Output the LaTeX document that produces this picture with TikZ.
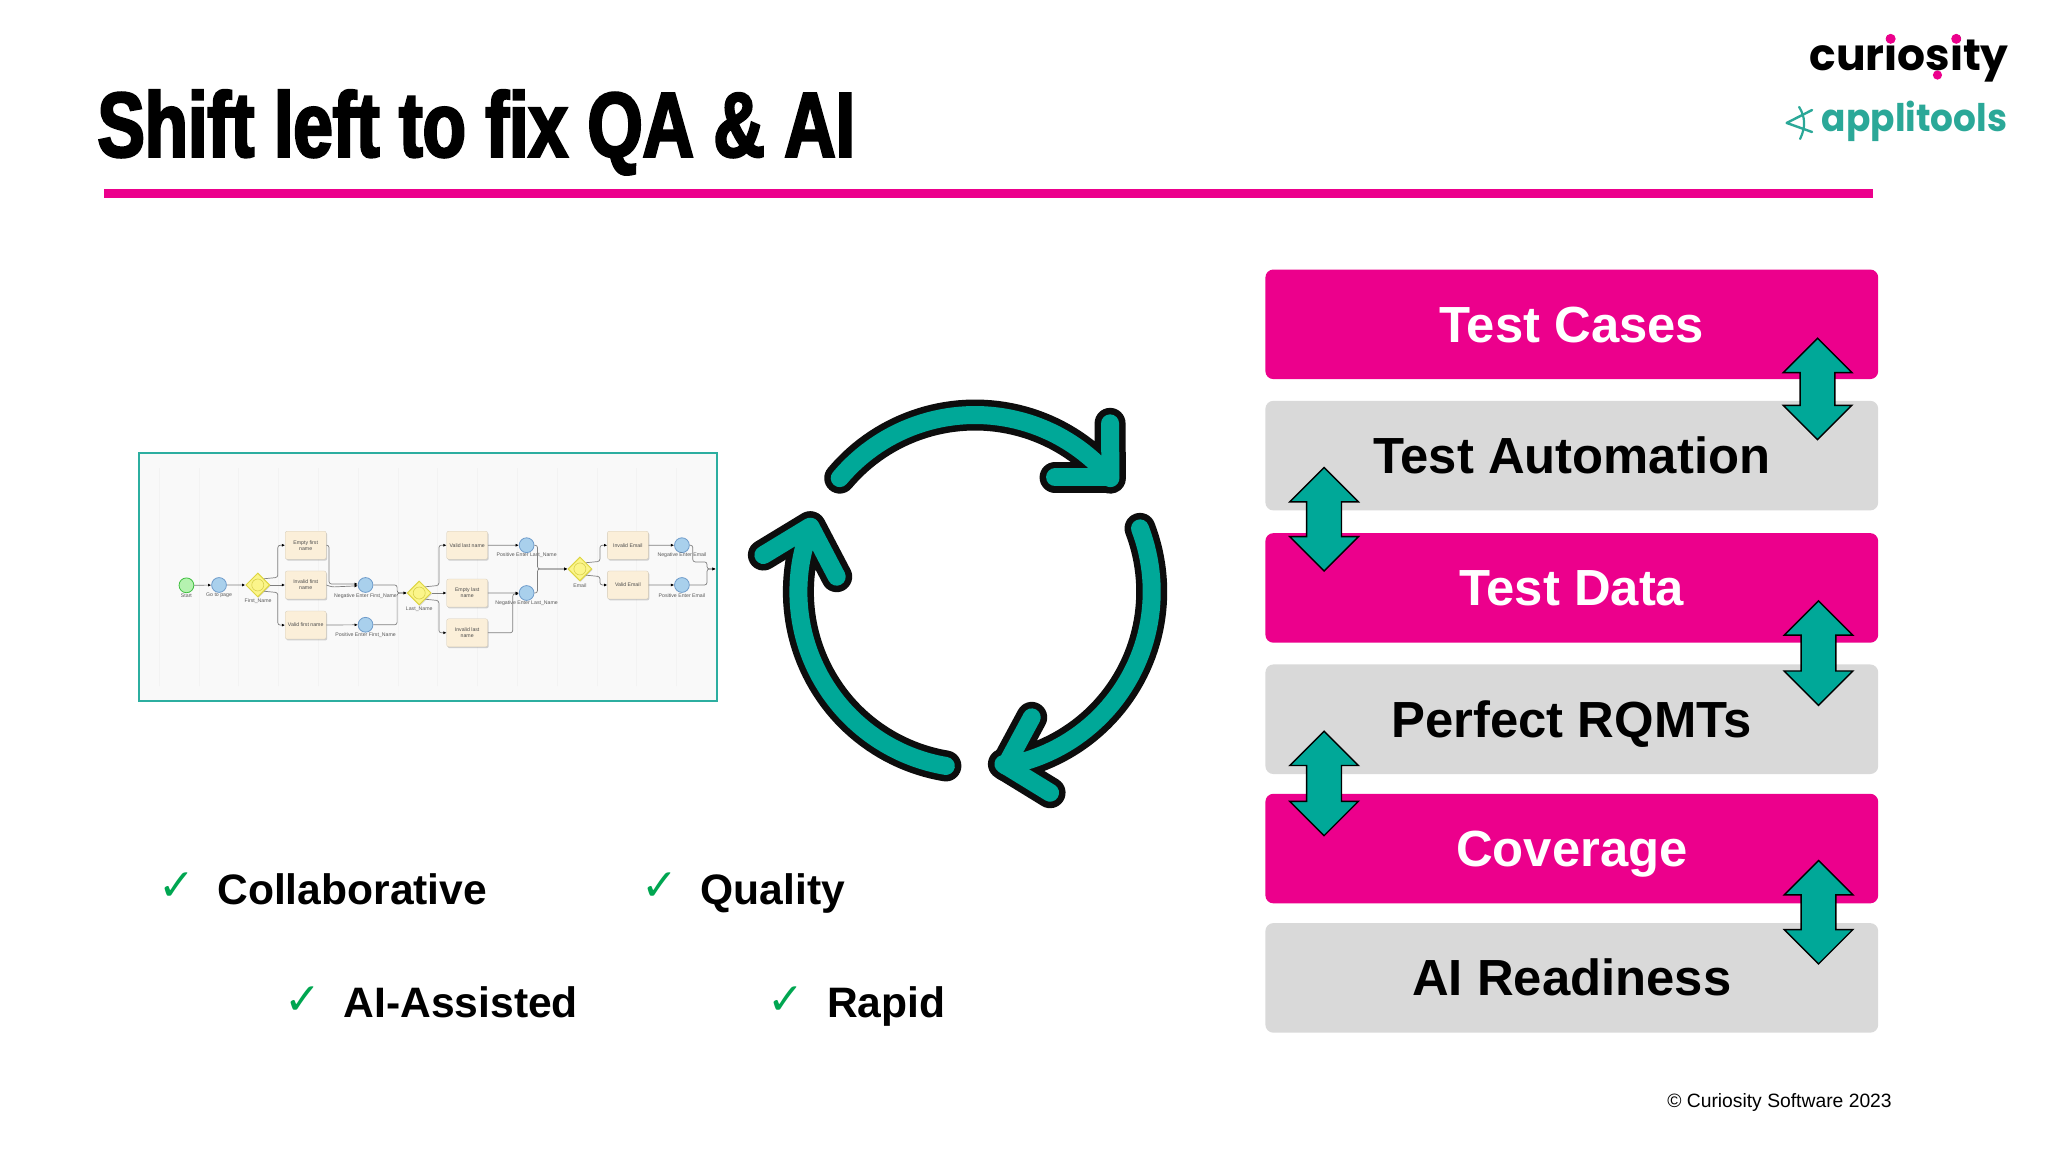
\documentclass[tikz,border=0pt]{standalone}
\usepackage{fontspec}
\usetikzlibrary{arrows.meta,shapes.geometric,shadows,calc}
\setmainfont{Liberation Sans}
\newfontfamily\titlefont[FakeStretch=0.775,FakeBold=2.6,LetterSpace=-0.4]{Liberation Sans Bold}
\newfontfamily\logofont{Poppins}
\newfontfamily\applifont[FakeStretch=0.945]{Poppins}
\newfontfamily\dejavu{DejaVu Sans}
\definecolor{pinkc}{HTML}{EC008C}
\definecolor{grayc}{HTML}{D9D9D9}
\definecolor{tealc}{HTML}{00A898}
\definecolor{framec}{HTML}{2CAEA0}
\definecolor{logoteal}{HTML}{2BA898}
\definecolor{checkc}{HTML}{00A651}
\definecolor{taskc}{HTML}{FBEFD9}
\definecolor{bluec}{HTML}{A9D0EC}
\definecolor{bluee}{HTML}{6F9CCB}
\definecolor{greenf}{HTML}{B5F2B0}
\definecolor{yellowf}{HTML}{FBF58A}
\definecolor{panelc}{HTML}{F9F9F9}
\definecolor{gridc}{HTML}{F3F3F3}
\tikzset{
  x=0.4974pt,y=-0.4974pt,
  bandbox/.style={minimum width=306.4pt,minimum height=54.8pt,rounded corners=4pt,inner sep=0pt,text height=18pt,text depth=0pt,font=\bfseries\fontsize{25.4}{26}\selectfont},
  pinkbox/.style={bandbox,fill=pinkc,text=white},
  graybox/.style={bandbox,fill=grayc,text=black},
  listtext/.style={anchor=west,inner sep=0pt,text height=15.3pt,text depth=0pt,font=\bfseries\fontsize{21.3}{22}\selectfont},
  checkmark/.style={inner sep=0pt,text=checkc,font=\dejavu\fontsize{22}{22}\selectfont},
  dbl/.style={fill=tealc,draw=black,line width=0.7pt,line join=miter},
  loopblack/.style={draw=black!95,line width=15.5pt,line cap=round,line join=round},
  loopteal/.style={draw=tealc,line width=9pt,line cap=round,line join=round},
  task/.style={rounded corners=1pt,fill=taskc,draw=taskc!85!black,line width=.15pt,minimum width=20.5pt,minimum height=14pt,inner sep=0pt,align=center,font=\fontsize{2.6}{3}\selectfont,text=black!70,drop shadow={shadow xshift=.5pt,shadow yshift=-.7pt,opacity=.35}},
  evt/.style={circle,fill=bluec,draw=bluee,line width=.4pt,minimum size=7.4pt,inner sep=0pt},
  evts/.style={circle,fill=greenf,draw=green!50!gray,line width=.4pt,minimum size=7.4pt,inner sep=0pt},
  gate/.style={diamond,aspect=1,fill=yellowf,draw=yellow!70!gray,line width=.5pt,minimum size=12pt,inner sep=0pt,drop shadow={shadow xshift=.4pt,shadow yshift=-.5pt,opacity=.3}},
  gatein/.style={circle,draw=yellow!65!gray,line width=.3pt,minimum size=6pt,inner sep=0pt},
  capt/.style={inner sep=0pt,font=\fontsize{2.6}{3}\selectfont,text=black!65},
  conn/.style={draw=black!50,line width=.35pt,rounded corners=1.2pt,-{Latex[length=1.6pt,width=1.5pt,black]}},
}
\newcommand{\dblarrow}[3]{% centre x, top y, bottom y
  \draw[dbl] (#1,#2) -- ({#1+34.5},{#2+34.5}) -- ({#1+17.5},{#2+34.5}) -- ({#1+17.5},{#3-34.5}) -- ({#1+34.5},{#3-34.5}) -- (#1,#3) -- ({#1-34.5},{#3-34.5}) -- ({#1-17.5},{#3-34.5}) -- ({#1-17.5},{#2+34.5}) -- ({#1-34.5},{#2+34.5}) -- cycle;}
\newcommand{\looppaths}[1]{%
  \draw[#1] plot[domain=140:40,samples=50] ({705+530*cos(\x)},{635-530*sin(\x)}) -- (1110,130);
  \draw[#1] (945,292) -- (1110,292);
  \draw[#1] plot[domain=21:-80,samples=50] ({705+530*cos(\x)},{635-530*sin(\x)}) -- (875,1012);
  \draw[#1] (930,1238) -- (790,1152);
  \draw[#1] plot[domain=-99.5:-201.5,samples=50] ({705+530*cos(\x)},{635-530*sin(\x)}) -- (290,590);
  \draw[#1] (70,525) -- (210,440);
}
\newcommand{\curfont}{\logofont\bfseries\fontsize{22}{22}\selectfont}
\newdimen\wa \newdimen\wb \newdimen\wc \newdimen\wi \newdimen\ws
\begin{document}
\setbox0=\hbox{\curfont curi}\global\wa=\wd0
\setbox0=\hbox{\curfont curiosi}\global\wb=\wd0
\setbox0=\hbox{\curfont curios}\global\wc=\wd0
\setbox0=\hbox{\curfont i}\global\wi=\wd0
\setbox0=\hbox{\curfont s}\global\ws=\wd0
\global\advance\wa by -0.5\wi
\global\advance\wb by -0.5\wi
\global\advance\wc by -0.5\ws
\begin{tikzpicture}
\useasboundingbox[fill=white] (0,0) rectangle (2058.7,1158);
% title
\node[anchor=base west,inner sep=0pt,font=\titlefont\fontsize{46}{48}\selectfont] (title) at (97.5,157.5) {Shift left to fix QA \& AI};
\fill[pinkc] (105,190) rectangle (1883,199);
% logos
\node[anchor=base west,inner sep=0pt,font=\curfont,text=black] (cur) at (1818.5,70.4) {curiosity};
\fill[pinkc] ($(cur.base west)+(\the\wa,15.6pt)$) circle (2.5pt);
\fill[pinkc] ($(cur.base west)+(\the\wb,15.6pt)$) circle (2.5pt);
\fill[pinkc] ($(cur.base west)+(\the\wc,-2.5pt)$) circle (2.3pt);
\node[anchor=base west,inner sep=0pt,font=\applifont\bfseries\fontsize{19}{19}\selectfont,text=logoteal] (app) at (1831,132.4) {applitools};
\draw[logoteal,line width=1.1pt,line cap=round] (1808.5,107.5) .. controls (1815,118) and (1815,128) .. (1809.5,139.7);
\draw[logoteal,line width=1.2pt,line join=round,line cap=round] (1821.5,110.6) -- (1796,123.6) -- (1821.5,132.7);
% model picture
\draw[framec,line width=.9pt,fill=panelc] (140,455) rectangle (721,705);
\draw[gridc,line width=.3pt] (160,470) grid[step=40] (700,690);
\begin{scope}[shift={(130.36,452.3)},xscale=.3855,yscale=.336]
  \node[evts] (st) at (148,405) {};
  \node[evt] (go) at (233,404) {};
  \node[gate] (fn) at (334,404) {};
  \node[gatein] (fni) at (334,404) {};
  \node[task] (ef) at (459,285) {Empty first\\name};
  \node[task] (if) at (459,404) {Invalid first\\name};
  \node[task] (vf) at (459,524) {Valid first name};
  \node[evt] (nf) at (615,404) {};
  \node[evt] (pf) at (615,523) {};
  \node[gate] (ln) at (755,428) {};
  \node[gatein] (lni) at (755,428) {};
  \node[task] (vl) at (880,285) {Valid last name};
  \node[task] (el) at (880,428) {Empty last\\name};
  \node[task] (il) at (880,547) {Invalid last\\name};
  \node[evt] (pl) at (1035,285) {};
  \node[evt] (nl) at (1035,428) {};
  \node[gate] (em) at (1174,356) {};
  \node[gatein] (emi) at (1174,356) {};
  \node[task] (ie) at (1299,285) {Invalid Email};
  \node[task] (ve) at (1299,404) {Valid Email};
  \node[evt] (ne) at (1440,285) {};
  \node[evt] (pe) at (1440,404) {};
  \coordinate (ex) at (1528,356);
  \node[capt] (cs) at (148,435) {Start};
  \node[capt] (cg) at (233,436) {Go to page};
  \node[capt] (cf) at (335,453) {First\_Name};
  \node[capt] (cnf) at (615,436) {Negative Enter First\_Name};
  \node[capt] (cpf) at (615,555) {Positive Enter First\_Name};
  \node[capt] (cln) at (755,477) {Last\_Name};
  \node[capt] (cpl) at (1035,316) {Positive Enter Last\_Name};
  \node[capt] (cnl) at (1035,459) {Negative Enter Last\_Name};
  \node[capt] (ce) at (1174,406) {Email};
  \node[capt] (cne) at (1440,316) {Negative Enter Email};
  \node[capt] (cpe) at (1440,436) {Positive Enter Email};
  \draw[conn] (st) -- (go);
  \draw[conn] (go) -- (fn);
  \draw[conn] (fn.north east) -- ++(36,-4) |- (ef.west);
  \draw[conn] (fn.east) -- (if.west);
  \draw[conn] (fn.south east) -- ++(36,4) |- (vf.west);
  \draw[conn] (ef.east) -- ++(7,0) |- ([yshift=1.5pt]nf.west);
  \draw[conn] (if.east) -- ++(15,6) -- ([yshift=-1.2pt]nf.west);
  \draw[conn] (vf) -- (pf);
  \draw[conn] (nf.east) -- ++(62,0) |- (ln.west);
  \draw[conn] (pf.east) -- ++(62,0) |- (ln.west);
  \draw[conn] (ln.north east) -- ++(35,-4) |- (vl.west);
  \draw[conn] (ln.east) -- (el.west);
  \draw[conn] (ln.south east) -- ++(35,4) |- (il.west);
  \draw[conn] (vl) -- (pl);
  \draw[conn] (el) -- (nl);
  \draw[conn] (il.east) -- ++(65,0) |- ([yshift=-1.2pt]nl.west);
  \draw[conn] (pl.east) -- ++(8,0) |- (em.west);
  \draw[conn] (nl.east) -- ++(8,0) |- (em.west);
  \draw[conn] (em.north east) -- ++(36,-4) |- (ie.west);
  \draw[conn] (em.south east) -- ++(36,4) |- (ve.west);
  \draw[conn] (ie) -- (ne);
  \draw[conn] (ve) -- (pe);
  \draw[conn] (ne.east) -- ++(8,0) -- ++(0,50) -- ++(37,0) |- (ex);
  \draw[conn] (pe.east) -- ++(45,0) |- (ex);
\end{scope}
% cycle
\begin{scope}[shift={(743.9,382)},xscale=.3351,yscale=.3351]
  \looppaths{loopblack}
  \looppaths{loopteal}
\end{scope}
% bands
\node[pinkbox] (tc) at (1580,326) {Test Cases};
\node[graybox] (ta) at (1580,458) {Test Automation};
\node[pinkbox] (td) at (1580,591) {Test Data};
\node[graybox] (pr) at (1580,723) {Perfect RQMTs};
\node[pinkbox] (cv) at (1580,853) {Coverage};
\node[graybox] (ai) at (1580,983) {AI Readiness};
\dblarrow{1827}{340}{442}
\dblarrow{1331}{470}{574}
\dblarrow{1828}{604}{709}
\dblarrow{1331}{735}{840}
\dblarrow{1828}{865}{969}
% list
\node[checkmark] (c1) at (177.5,891.5) {✓};
\node[listtext] (l1) at (218,894) {Collaborative};
\node[checkmark] (c2) at (663,891.5) {✓};
\node[listtext] (l2) at (704,894) {Quality};
\node[checkmark] (c3) at (305,1005.5) {✓};
\node[listtext] (l3) at (345,1007) {AI-Assisted};
\node[checkmark] (c4) at (790,1005.5) {✓};
\node[listtext] (l4) at (831,1007) {Rapid};
\node[anchor=east,inner sep=0pt,font=\fontsize{9.65}{10}\selectfont] (copy) at (1902,1108.5) {© Curiosity Software 2023};
\end{tikzpicture}
\end{document}
